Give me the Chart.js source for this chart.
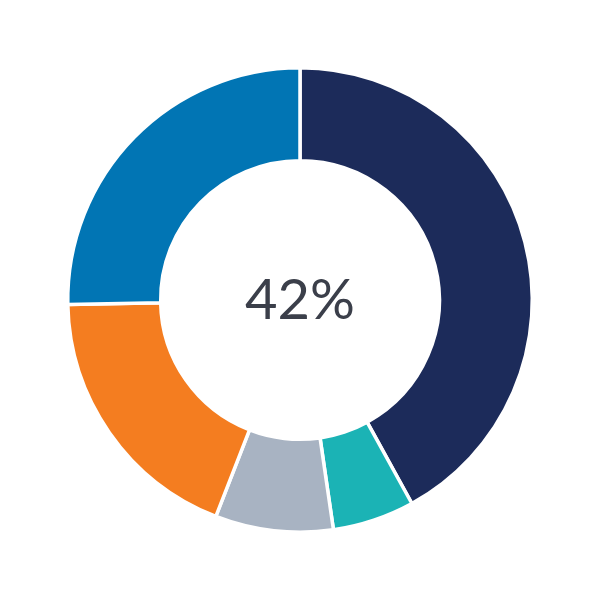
<!DOCTYPE html>
<html>
<head>
<meta charset="utf-8">
<script src="https://cdn.jsdelivr.net/npm/chart.js@4"></script>
<style>
  html, body { margin: 0; padding: 0; background: #ffffff; }
  #wrap { position: relative; width: 600px; height: 600px; }
  #center { position: absolute; left: 0; top: 0; width: 600px; height: 600px;
    display: flex; align-items: center; justify-content: center;
    font-family: Lato, "Open Sans", sans-serif; font-size: 56px; color: #3b3f4a;
    pointer-events: none; }
  #center span { position: relative; top: -3px; }
</style>
</head>
<body>
<div id="wrap">
  <canvas id="c" width="600" height="600"></canvas>
  <div id="center"><span id="centerText"></span></div>
</div>
<script>
const categories = ["Navy", "Teal", "Gray", "Orange", "Blue"];
const values = [42, 5.7, 8.2, 18.8, 25.3];
const colors = ["#1c2b5a", "#1bb3b5", "#a8b3c2", "#f47d20", "#0175b4"];
const centerLabel = "42%";

document.getElementById("centerText").textContent = centerLabel;

new Chart(document.getElementById("c"), {
  type: "doughnut",
  data: {
    labels: categories,
    datasets: [{
      data: values,
      backgroundColor: colors,
      borderColor: "#ffffff",
      borderWidth: 3.5,
      hoverOffset: 0
    }]
  },
  options: {
    responsive: false,
    animation: false,
    cutout: "60%",
    layout: { padding: 66 },
    plugins: { legend: { display: false }, tooltip: { enabled: false } }
  }
});
</script>
</body>
</html>
